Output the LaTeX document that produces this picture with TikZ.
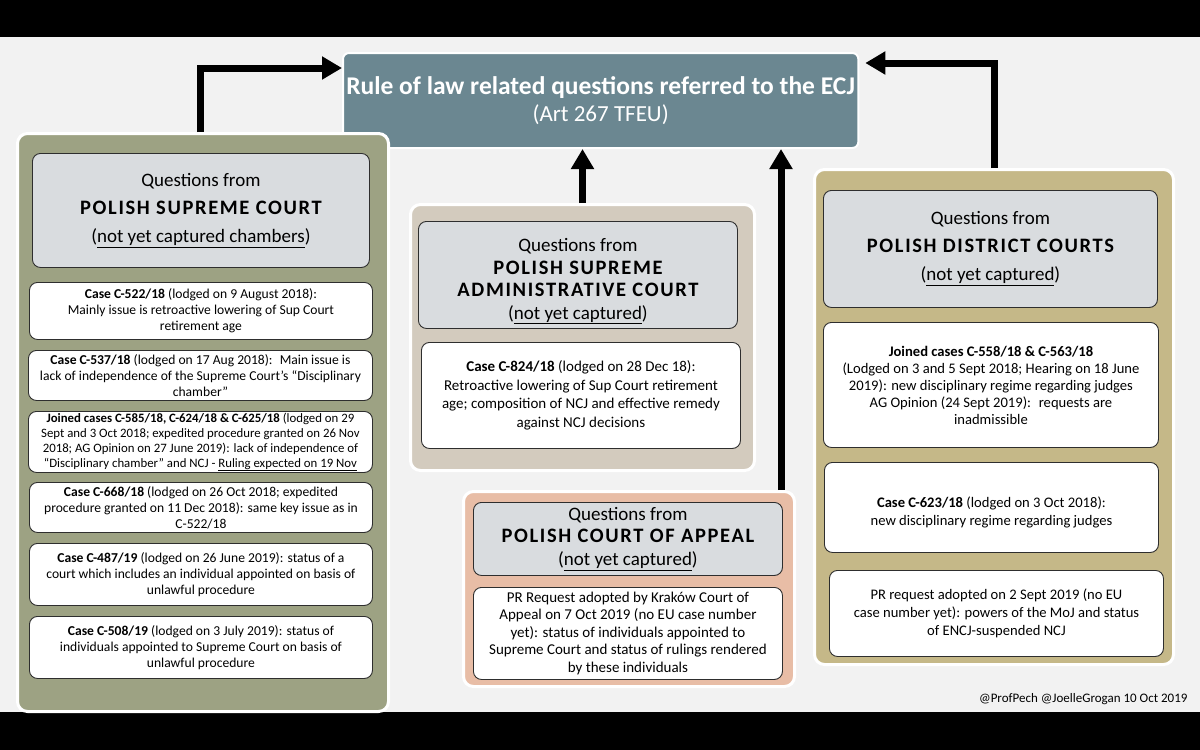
\documentclass[tikz,border=0pt]{standalone}
\usepackage{fontspec}
\setmainfont{Carlito}
\usetikzlibrary{arrows.meta, positioning}
\definecolor{pagebg}{HTML}{F2F2F2}
\definecolor{ecjblue}{HTML}{6B8791}
\definecolor{olive}{HTML}{9DA283}
\definecolor{stone}{HTML}{D3CBBE}
\definecolor{salmon}{HTML}{E8BDA6}
\definecolor{khaki}{HTML}{C5B888}
\definecolor{headgrey}{HTML}{D9DCDF}
\definecolor{edge}{HTML}{2E2E2E}
\newcommand{\uln}[1]{\underline{#1}}
\newcommand{\court}[1]{{\fontsize{20.5}{27}\selectfont\bfseries\addfontfeature{LetterSpace=8}#1}}

\begin{document}
\begin{tikzpicture}[
  x=1pt, y=-1pt,
  panel/.style={rectangle, rounded corners=10pt, draw=white, line width=3pt,
                anchor=north west, inner sep=0pt},
  head/.style={rectangle, rounded corners=8pt, draw=edge, line width=0.9pt,
               fill=headgrey, anchor=north west, align=center, inner sep=0pt,
               font=\fontsize{19}{28}\selectfont},
  card/.style={rectangle, rounded corners=8pt, draw=edge, line width=0.9pt,
               fill=white, anchor=north west, align=center, inner sep=0pt,
               font=\fontsize{15}{17.5}\selectfont},
  smallcard/.style={card, font=\fontsize{13.6}{16}\selectfont},
  flow/.style={-{Triangle[length=20pt, width=22pt]}, line width=7pt, black}
]
  \useasboundingbox (0,0) rectangle (1200,750);
  \fill[pagebg] (0,0) rectangle (1200,750);
  \fill[black] (0,0) rectangle (1200,37);
  \fill[black] (0,712) rectangle (1200,750);

  % target of all references
  \node[rectangle, rounded corners=6pt, draw=white, line width=2pt, fill=ecjblue,
        anchor=north west, minimum width=515pt, minimum height=95pt, align=center,
        text=white, font=\fontsize{23}{27}\selectfont] (ecj) at (342,52)
        {{\fontsize{25.5}{27}\selectfont\bfseries Rule of law related questions referred to the ECJ}\\(Art 267 TFEU)};

  % supreme court
  \node[panel, fill=olive, minimum width=371pt, minimum height=578pt] (scp) at (16,132) {};
  \node[head, minimum width=337pt, minimum height=114pt] (sch) at (32,153)
    {Questions from\\\court{POLISH SUPREME COURT}\\(\uln{not yet captured chambers})};
  \node[smallcard, minimum width=343pt, minimum height=57pt] (sc1) at (29,282)
    {\textbf{Case C-522/18} (lodged on 9 August 2018):\\Mainly issue is retroactive lowering of Sup Court\\retirement age};
  \node[smallcard, minimum width=344pt, minimum height=50pt] (sc2) at (28,350)
    {\textbf{Case C-537/18} (lodged on 17 Aug 2018):~ Main issue is\\lack of independence of the Supreme Court’s “Disciplinary\\chamber”};
  \node[smallcard, minimum width=344pt, minimum height=61pt,
        font=\fontsize{12.8}{15}\selectfont] (sc3) at (28,411)
    {\textbf{Joined cases C-585/18, C-624/18 \& C-625/18} (lodged on 29\\Sept and 3 Oct 2018; expedited procedure granted on 26 Nov\\2018; AG Opinion on 27 June 2019): lack of independence of\\“Disciplinary chamber” and NCJ - \uln{Ruling expected on 19 Nov}};
  \node[smallcard, minimum width=343pt, minimum height=50pt] (sc4) at (29,482)
    {\textbf{Case C-668/18} (lodged on 26 Oct 2018; expedited\\procedure granted on 11 Dec 2018): same key issue as in\\C-522/18};
  \node[smallcard, minimum width=343pt, minimum height=62pt] (sc5) at (29,543)
    {\textbf{Case C-487/19} (lodged on 26 June 2019): status of a\\court which includes an individual appointed on basis of\\unlawful procedure};
  \node[smallcard, minimum width=343pt, minimum height=62pt] (sc6) at (29,616)
    {\textbf{Case C-508/19} (lodged on 3 July 2019): status of\\individuals appointed to Supreme Court on basis of\\unlawful procedure};

  % supreme administrative court
  \node[panel, fill=stone, minimum width=344pt, minimum height=266pt] (sacp) at (409,203) {};
  \node[head, minimum width=319pt, minimum height=107pt,
        font=\fontsize{19}{22.5}\selectfont] (sach) at (418,221)
    {\rule{0pt}{26pt}Questions from\\\court{POLISH SUPREME}\\\court{ADMINISTRATIVE COURT}\\(\uln{not yet captured})};
  \node[card, minimum width=319pt, minimum height=106pt, font=\fontsize{15}{18.5}\selectfont] (sac1) at (421,342)
    {\textbf{Case C-824/18} (lodged on 28 Dec 18):\\Retroactive lowering of Sup Court retirement\\age; composition of NCJ and effective remedy\\against NCJ decisions};

  % court of appeal
  \node[panel, fill=salmon, minimum width=331pt, minimum height=195pt] (cap) at (462,490) {};
  \node[head, minimum width=309pt, minimum height=73pt,
        font=\fontsize{19}{22.5}\selectfont] (cah) at (473,502)
    {Questions from\\\court{POLISH COURT OF APPEAL}\\(\uln{not yet captured})};
  \node[card, minimum width=309pt, minimum height=92pt] (ca1) at (473,587)
    {PR Request adopted by Kraków Court of\\Appeal on 7 Oct 2019 (no EU case number\\yet): status of individuals appointed to\\Supreme Court and status of rulings rendered\\by these individuals};

  % district courts
  \node[panel, fill=khaki, minimum width=359pt, minimum height=495pt] (dcp) at (813,168) {};
  \node[head, minimum width=334pt, minimum height=117pt] (dch) at (823,190)
    {Questions from\\\court{POLISH DISTRICT COURTS}\\(\uln{not yet captured})};
  \node[card, minimum width=335pt, minimum height=125pt, font=\fontsize{14.6}{17}\selectfont] (dc1) at (823,322)
    {\textbf{Joined cases C-558/18 \& C-563/18}\\(Lodged on 3 and 5 Sept 2018; Hearing on 18 June\\2019): new disciplinary regime regarding judges\\AG Opinion (24 Sept 2019):~ requests are\\inadmissible};
  \node[card, minimum width=334pt, minimum height=90pt, font=\fontsize{14.6}{17.5}\selectfont] (dc2) at (824,462)
    {\rule{0pt}{21pt}\textbf{Case C-623/18} (lodged on 3 Oct 2018):\\new disciplinary regime regarding judges};
  \node[card, minimum width=334pt, minimum height=86pt, font=\fontsize{14.6}{18}\selectfont] (dc3) at (829,570)
    {PR request adopted on 2 Sept 2019 (no EU\\case number yet): powers of the MoJ and status\\of ENCJ-suspended NCJ};

  \node[anchor=east, font=\fontsize{13}{15}\selectfont] (credit) at (1191,699)
    {@ProfPech @JoelleGrogan 10 Oct 2019};

  % referrals
  \draw[flow] ([xshift=184pt]scp.north west) |- ([yshift=-16pt]ecj.north west);
  \draw[flow] (dcp.north) |- ([xshift=6pt, yshift=-11pt]ecj.north east);
  \draw[flow] (sacp.north) -- (sacp.north |- ecj.south);
  \draw[flow] ([xshift=-15pt]cap.north east) -- ([xshift=-15pt]cap.north east |- ecj.south);
\end{tikzpicture}
\end{document}
